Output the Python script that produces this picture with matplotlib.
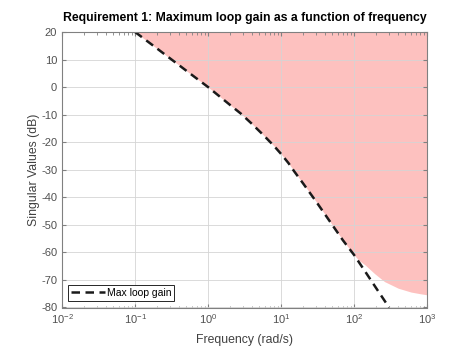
import matplotlib
matplotlib.use("Agg")
import matplotlib.pyplot as plt
import numpy as np
from matplotlib.ticker import LogLocator, FixedLocator

plt.rcParams['font.family'] = ['Liberation Sans', 'DejaVu Sans']
plt.rcParams['mathtext.default'] = 'regular'
plt.rcParams['axes.unicode_minus'] = False

# Max loop gain curve (rad/s, dB)
loop_freq = [0.1, 0.2, 0.5, 1, 2, 2.8, 4, 5.8, 8, 10, 12.6, 15, 20, 30, 50, 70, 100, 150, 200, 300]
loop_gain = [20, 14, 6, 0, -6.5, -9.6, -13.4, -17.6, -21.4, -24.3, -27.6, -30.5, -35.0, -41.5, -50.0, -55.6, -61.0, -68.0, -73.0, -80]

# Upper edge of the shaded (violation) region beyond 100 rad/s
region_freq = [100, 115, 140, 190, 260, 400, 600, 800, 1000]
region_gain = [-61.0, -62.8, -64.5, -67.7, -70.6, -73.0, -74.4, -75.0, -75.4]

title = "Requirement 1: Maximum loop gain as a function of frequency"
xlabel = "Frequency (rad/s)"
ylabel = "Singular Values (dB)"
legend_label = "Max loop gain"
yticks = [-80, -70, -60, -50, -40, -30, -20, -10, 0, 10, 20]

fig = plt.figure(figsize=(4.74, 3.55), dpi=100)
ax = fig.add_axes([62/474, 1 - 307.5/355, 365.3/474, 275.5/355])

bf = np.array([f for f in loop_freq if f <= 100] + region_freq[1:])
bg = np.array([g for f, g in zip(loop_freq, loop_gain) if f <= 100] + region_gain[1:])
ax.fill_between(bf, bg, 20, color='#FDC1BF', linewidth=0, zorder=1)

ax.plot(loop_freq, loop_gain, color='#1a1a1a', linestyle=(0, (3.4, 2.2)), linewidth=1.8,
        label=legend_label, zorder=3)

ax.set_xscale('log')
ax.set_xlim(1e-2, 1e3)
ax.set_ylim(-80, 20)
ax.yaxis.set_major_locator(FixedLocator(yticks))
ax.xaxis.set_major_locator(LogLocator(base=10, numticks=10))
ax.xaxis.set_minor_locator(LogLocator(base=10, subs=np.arange(2, 10), numticks=20))

ax.grid(True, which='major', color='#d4d4d4', linewidth=0.7, zorder=0)
ax.set_axisbelow(False)
for gl in ax.get_xgridlines() + ax.get_ygridlines():
    gl.set_zorder(2)
    gl.set_alpha(0.85)

spine_col = '#808080'
for s in ax.spines.values():
    s.set_color(spine_col)
    s.set_linewidth(0.8)
    s.set_zorder(4)
ax.tick_params(which='both', direction='in', top=True, right=True, colors=spine_col,
               labelcolor='#505050', labelsize=8)
ax.tick_params(which='major', length=3)
ax.tick_params(which='minor', length=1.8)

ax.set_title(title, fontsize=8.85, fontweight='bold', color='black', pad=8)
ax.set_xlabel(xlabel, fontsize=8.8, color='#404040', labelpad=6)
ax.set_ylabel(ylabel, fontsize=8.8, color='#404040', labelpad=1)

leg = ax.legend(loc='lower left', fontsize=7.5, frameon=True, fancybox=False,
                edgecolor='#262626', borderpad=0.3, handlelength=3.2, handletextpad=0.2,
                borderaxespad=0.6)
leg.get_frame().set_linewidth(0.7)
leg.get_frame().set_facecolor('white')
leg.get_frame().set_alpha(1)
leg.set_zorder(5)

fig.savefig('out.png', dpi=100)
